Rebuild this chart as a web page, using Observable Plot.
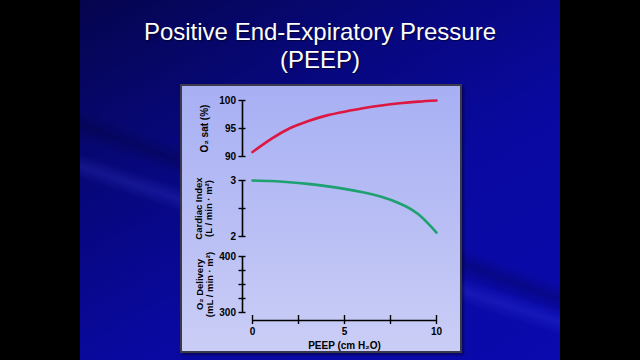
<!DOCTYPE html>
<html>
<head>
<meta charset="utf-8">
<script src="https://cdn.jsdelivr.net/npm/d3@7"></script>
<script src="https://cdn.jsdelivr.net/npm/@observablehq/plot@0.6"></script>
<style>
  html, body { margin: 0; padding: 0; }
  body { width: 640px; height: 360px; background: #000; position: relative; overflow: hidden; font-family: "Liberation Sans", Arial, sans-serif; }
  #slide { position: absolute; left: 80px; top: 0; width: 480px; height: 360px;
    background:
      linear-gradient(198deg, rgba(90,100,255,0) 0%, rgba(90,100,255,0) 60%, rgba(90,100,255,0.16) 62.5%, rgba(90,100,255,0) 65%, rgba(90,100,255,0) 100%),
      linear-gradient(200deg, rgba(0,0,40,0) 0%, rgba(0,0,40,0) 53%, rgba(0,0,40,0.25) 56%, rgba(0,0,40,0) 59%, rgba(0,0,40,0) 100%),
      linear-gradient(150deg, #05054e 0%, #07077a 30%, #0909a0 60%, #0a0aae 100%); }
  #title { position: absolute; left: 80px; width: 480px; top: 18px; text-align: center; color: #fff;
    font-size: 24px; line-height: 28px; text-shadow: 1px 1px 1px rgba(0,0,0,0.5); }
  #panel { position: absolute; left: 180px; top: 84px; width: 282px; height: 269px; box-sizing: border-box;
    border: 2px solid #3a3a4c; background: linear-gradient(180deg, #a8b0f4 0%, #b8bef4 50%, #cacef6 100%);
    box-shadow: 2px 2px 2px rgba(0,0,0,0.4); }
  .chart { position: absolute; left: 178px; }
  .chart svg { overflow: visible; }
</style>
</head>
<body>
<div id="slide"></div>
<div id="title">Positive End-Expiratory Pressure<br>(PEEP)</div>
<div id="panel"></div>
<div id="c1" class="chart" style="top:84px"></div>
<div id="c2" class="chart" style="top:168px"></div>
<div id="c3" class="chart" style="top:248px"></div>
<script>
// Data
const peep = [0, 1, 2, 3, 4, 5, 6, 7, 8, 9, 10];
const o2Sat = [90.8, 93.1, 95.0, 96.3, 97.3, 98.0, 98.6, 99.1, 99.5, 99.8, 100.0];
const cardiacIndex = [3.0, 2.99, 2.97, 2.94, 2.90, 2.85, 2.79, 2.71, 2.59, 2.40, 2.07];

const o2SatTicks = [90, 95, 100];
const ciTicks = [2, 2.5, 3];
const ciLabels = [2, 3];
const do2Ticks = [300, 325, 350, 375, 400];
const do2Labels = [300, 400];
const peepTicks = [0, 2.5, 5, 7.5, 10];
const peepLabels = [0, 5, 10];

const labelO2Sat = "O₂ sat (%)";
const labelCI = "Cardiac Index\n(L / min · m²)";
const labelDO2 = "O₂ Delivery\n(mL / min · m²)";
const labelPEEP = "PEEP (cm H₂O)";

const satData = peep.map((p, i) => ({peep: p, v: o2Sat[i]}));
const ciData = peep.map((p, i) => ({peep: p, v: cardiacIndex[i]}));

const baseStyle = {fontFamily: "'Liberation Sans', Arial, sans-serif", fontSize: "10px", fontWeight: "bold",
  color: "#000", background: "transparent", overflow: "visible"};
const common = {width: 282, marginLeft: 74, marginRight: 24, style: baseStyle};

function yAxisMarks(ticks, labels, domain, title, dx, fs) {
  return [
    Plot.ruleX([0], {y1: domain[0], y2: domain[1], dx: -10, stroke: "#000", strokeWidth: 1.6}),
    Plot.axisY({ticks, tickSize: 7, dx: -6.5, tickPadding: 3, strokeWidth: 1.4,
      tickFormat: d => labels.includes(d) ? String(d) : "", label: null, fontSize: 10, fontWeight: "bold"}),
    Plot.text([title], {frameAnchor: "left", rotate: -90, dx, textAnchor: "middle", lineAnchor: "middle", lineHeight: 1.15,
      fontSize: fs, fontWeight: "bold", fill: "#000"})
  ];
}

const p1 = Plot.plot({
  ...common, height: 84, marginTop: 16, marginBottom: 12,
  x: {domain: [0, 10], axis: null},
  y: {domain: [90, 100]},
  marks: [
    ...yAxisMarks(o2SatTicks, o2SatTicks, [90, 100], labelO2Sat, -48, 10),
    Plot.line(satData, {x: "peep", y: "v", curve: "natural", stroke: "#dc1840", strokeWidth: 2.6})
  ]
});
document.getElementById("c1").append(p1);

const p2 = Plot.plot({
  ...common, height: 80, marginTop: 12, marginBottom: 12,
  x: {domain: [0, 10], axis: null},
  y: {domain: [2, 3]},
  marks: [
    ...yAxisMarks(ciTicks, ciLabels, [2, 3], labelCI, -49, 9.5),
    Plot.line(ciData, {x: "peep", y: "v", curve: "natural", stroke: "#1fa070", strokeWidth: 2.6})
  ]
});
document.getElementById("c2").append(p2);

const p3 = Plot.plot({
  ...common, height: 104, marginTop: 8, marginBottom: 40,
  x: {domain: [0, 10], axis: null},
  y: {domain: [300, 400]},
  marks: [
    ...yAxisMarks(do2Ticks, do2Labels, [300, 400], labelDO2, -48, 9.5),
    Plot.ruleY([300], {x1: 0, x2: 10, dy: 8, stroke: "#000", strokeWidth: 1.6}),
    Plot.axisX({ticks: peepTicks, tickSize: 9, dy: 3, tickPadding: 3, strokeWidth: 1.4,
      tickFormat: d => peepLabels.includes(d) ? String(d) : "", label: null, fontSize: 10, fontWeight: "bold"}),
    Plot.text([labelPEEP], {frameAnchor: "bottom", dy: 33, lineAnchor: "middle", fontSize: 10, fontWeight: "bold", fill: "#000"})
  ]
});
document.getElementById("c3").append(p3);
</script>
</body>
</html>
